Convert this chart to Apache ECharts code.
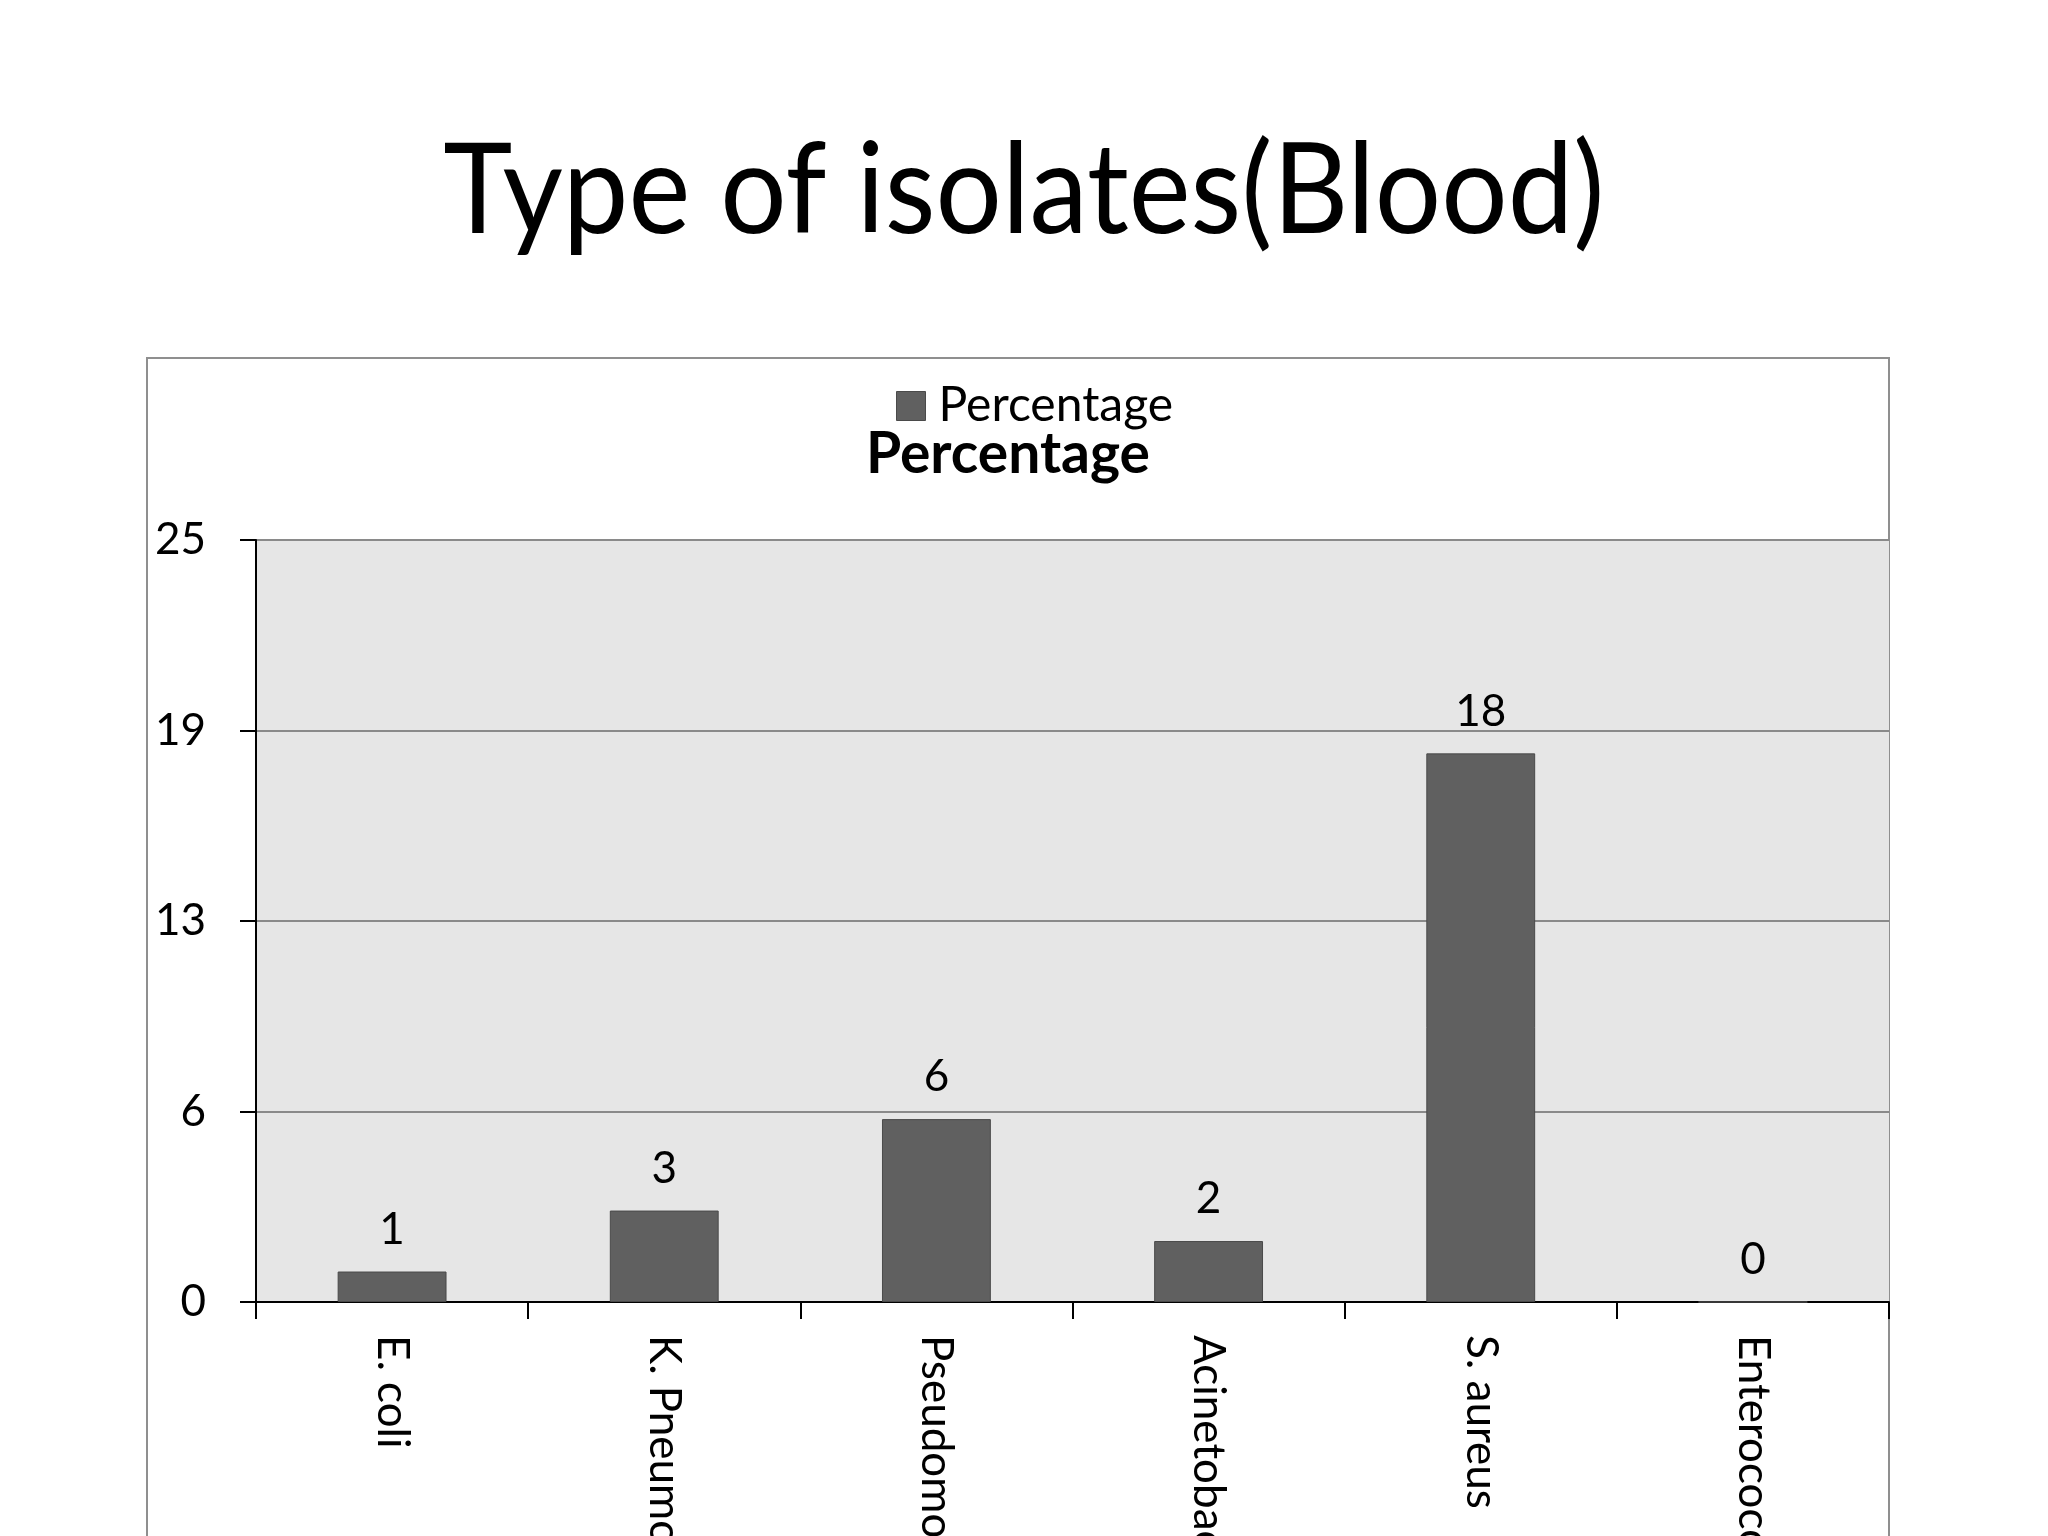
<!DOCTYPE html>
<html>
<head>
<meta charset="utf-8">
<script src="https://cdn.jsdelivr.net/npm/echarts@6/dist/echarts.min.js"></script>
<style>
html,body{margin:0;padding:0;background:#fff;}
#c{width:2048px;height:1536px;}
</style>
</head>
<body>
<div id="c"></div>
<script>
var categories = ['E. coli', 'K. Pneumoniae', 'Pseudomonas', 'Acinetobacter', 'S. aureus', 'Enterococcus'];
var percentage = [1, 3, 6, 2, 18, 0];
var yTicks = [0, 6.25, 12.5, 18.75, 25];

var FONT = 'Lato';
var chart = echarts.init(document.getElementById('c'));
chart.setOption({
  backgroundColor: '#ffffff',
  animation: false,
  textStyle: { fontFamily: FONT, color: '#000' },
  graphic: [
    { type: 'rect', z: -10, shape: { x: 147, y: 358, width: 1742, height: 1300 },
      style: { fill: '#ffffff', stroke: '#8f8f8f', lineWidth: 2 } },
    { type: 'text', x: 1024, y: 192, scaleX: 0.93,
      style: { text: 'Type of isolates(Blood)', font: '126px ' + FONT, fill: '#000', align: 'center', verticalAlign: 'middle' } },
    { type: 'text', x: 1008, y: 455,
      style: { text: 'Percentage', font: 'bold 57px ' + FONT, fill: '#000', align: 'center', verticalAlign: 'middle' } }
  ],
  legend: {
    data: ['Percentage'], top: 377, left: 891,
    icon: 'rect', itemWidth: 29, itemHeight: 29, itemGap: 12,
    textStyle: { fontFamily: FONT, fontSize: 48, color: '#000', padding: [0, 0, 0, 8] },
    itemStyle: { borderColor: '#4a4a4a', borderWidth: 1 }
  },
  grid: { left: 256, right: 159, top: 540, bottom: 234, show: true, backgroundColor: '#e6e6e6', borderWidth: 0,
    containLabel: false, outerBoundsMode: 'none' },
  xAxis: {
    type: 'category', data: categories,
    axisLine: { lineStyle: { color: '#000', width: 2 } },
    axisTick: { show: true, length: 17, lineStyle: { color: '#000', width: 2 } },
    axisLabel: { rotate: -90, margin: 33, fontSize: 44, color: '#000', fontFamily: FONT, interval: 0 }
  },
  yAxis: {
    type: 'value', min: yTicks[0], max: yTicks[yTicks.length - 1], interval: yTicks[1] - yTicks[0],
    axisLine: { show: true, lineStyle: { color: '#000', width: 2 } },
    axisTick: { show: true, length: 16, lineStyle: { color: '#000', width: 2 } },
    splitLine: { show: true, lineStyle: { color: '#8a8a8a', width: 2 } },
    axisLabel: { margin: 50, fontSize: 44, color: '#000', fontFamily: FONT,
      formatter: function (v) { return String(Math.round(v)); } }
  },
  series: [{
    name: 'Percentage', type: 'bar', data: percentage, barWidth: '40%',
    itemStyle: { color: '#606060', borderColor: '#4a4a4a', borderWidth: 1 },
    label: { show: true, position: 'top', distance: 20, fontSize: 44, color: '#000', fontFamily: FONT }
  }]
});
</script>
</body>
</html>
